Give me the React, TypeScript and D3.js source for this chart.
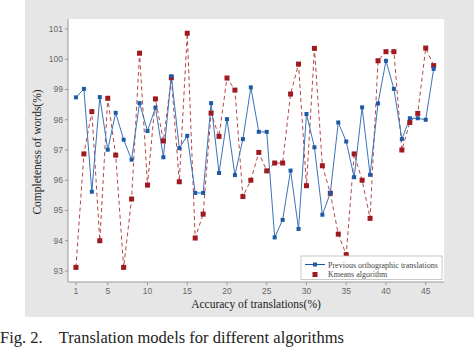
import React from "react";
import * as d3 from "d3";

const xValues = Array.from({ length: 46 }, (_, i) => i + 1);
const previousSeries = [
  98.74, 99.02, 95.62, 98.75, 97.01, 98.23, 97.34, 96.68, 98.55, 97.63,
  98.4, 96.76, 99.44, 97.06, 97.47, 95.58, 95.58, 98.55, 96.24, 98.02,
  96.17, 97.36, 99.07, 97.6, 97.6, 94.11, 94.69, 96.32, 94.39, 98.19,
  97.09, 94.86, 95.58, 97.91, 97.28, 96.1, 98.41, 96.18, 98.54, 99.95,
  99.02, 97.36, 98.05, 98.05, 98.0, 99.68,
];
const kmeansSeries = [
  93.12, 96.87, 98.27, 94.0, 98.71, 96.83, 93.12, 95.38, 100.2, 95.84,
  98.69, 97.3, 99.39, 95.95, 100.86, 94.09, 94.88, 98.22, 97.45, 99.38,
  98.98, 95.46, 96.0, 96.92, 96.31, 96.57, 96.57, 98.85, 99.84, 95.82,
  100.36, 96.48, 95.57, 94.22, 93.54, 96.87, 96.0, 94.74, 99.95, 100.25,
  100.25, 97.0, 97.91, 98.21, 100.37, 99.79,
];
const xTicks = [1, 5, 10, 15, 20, 25, 30, 35, 40, 45];
const yTicks = [93, 94, 95, 96, 97, 98, 99, 100, 101];
const seriesNames = ["Previous orthographic translations", "Kmeans algorithm"];

export default function App() {
  const W = 474, H = 347;
  const left = 68, right = 444, top = 19, bottom = 282;
  const x = d3.scaleLinear().domain([0, 47.3]).range([left, right]);
  const y = d3.scaleLinear().domain([93, 101]).range([271, 29]);
  const line = d3.line<number>().x((_, i) => x(xValues[i])).y((d) => y(d));
  const blue = "#1d5aa6";
  const red = "#9e1a1f";
  const tickColor = "#666";
  return (
    <svg width={W} height={H} style={{ position: "absolute", left: 0, top: 0, background: "#fff" }}>
      <rect x={25} y={0} width={449} height={317} fill="#e6e6e6" />
      <rect x={left} y={top} width={right - left} height={bottom - top} fill="#fff" />
      <line x1={left} x2={left} y1={top} y2={bottom} stroke="#999" strokeWidth={1} />
      <line x1={left} x2={right} y1={bottom} y2={bottom} stroke="#999" strokeWidth={1} />
      {yTicks.map((t) => (
        <g key={"y" + t}>
          <line x1={left - 3} x2={left} y1={y(t)} y2={y(t)} stroke="#999" />
          <text x={left - 5} y={y(t)} dy="0.35em" textAnchor="end" fontFamily="Liberation Sans, Arial, sans-serif" fontSize={8.5} fill={tickColor}>
            {t}
          </text>
        </g>
      ))}
      {xTicks.map((t) => (
        <g key={"x" + t}>
          <line x1={x(t)} x2={x(t)} y1={bottom} y2={bottom + 3} stroke="#999" />
          <text x={x(t)} y={bottom + 12} textAnchor="middle" fontFamily="Liberation Sans, Arial, sans-serif" fontSize={8.5} fill={tickColor}>
            {t}
          </text>
        </g>
      ))}
      <text x={256} y={308} textAnchor="middle" fontFamily="Liberation Serif, Times New Roman, serif" fontSize={11.5} fill="#222">
        Accuracy of translations(%)
      </text>
      <text transform={`translate(41,152) rotate(-90)`} textAnchor="middle" fontFamily="Liberation Serif, Times New Roman, serif" fontSize={11.5} fill="#222">
        Completeness of words(%)
      </text>
      <path d={line(kmeansSeries) || ""} fill="none" stroke="#b5474b" strokeWidth={1} strokeDasharray="4,3" />
      <path d={line(previousSeries) || ""} fill="none" stroke="#3a74b8" strokeWidth={1} />
      {kmeansSeries.map((v, i) => (
        <rect key={"r" + i} x={x(xValues[i]) - 2.5} y={y(v) - 2.5} width={5} height={5} fill={red} />
      ))}
      {previousSeries.map((v, i) => (
        <rect key={"b" + i} x={x(xValues[i]) - 2} y={y(v) - 2} width={4} height={4} fill={blue} />
      ))}
      <rect x={301} y={256} width={141} height={23.5} fill="#fff" stroke="#bbb" strokeWidth={0.8} />
      <line x1={305} x2={325} y1={264.5} y2={264.5} stroke={blue} strokeWidth={1.1} />
      <rect x={313} y={262.5} width={4} height={4} fill={blue} />
      <rect x={312.5} y={272} width={5} height={5} fill={red} />
      <text x={328} y={267.5} fontFamily="Liberation Serif, Times New Roman, serif" fontSize={8} fill="#444">
        {seriesNames[0]}
      </text>
      <text x={328} y={277} fontFamily="Liberation Serif, Times New Roman, serif" fontSize={8} fill="#444">
        {seriesNames[1]}
      </text>
      <text x={0} y={343} fontFamily="Liberation Serif, Times New Roman, serif" fontSize={16.5} fill="#222" xmlSpace="preserve">
        {"Fig. 2.    Translation models for different algorithms"}
      </text>
    </svg>
  );
}
